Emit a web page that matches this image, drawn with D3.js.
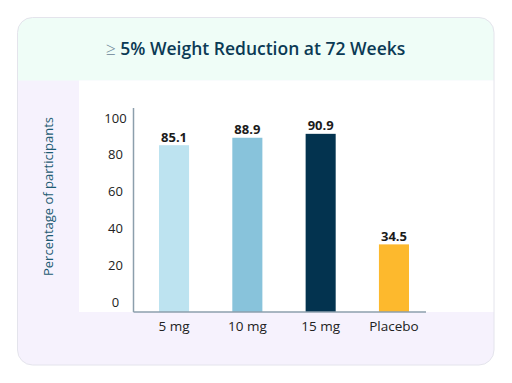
<!DOCTYPE html>
<html>
<head>
<meta charset="utf-8">
<script src="https://cdn.jsdelivr.net/npm/d3@7"></script>
<style>
  html, body { margin: 0; padding: 0; background: #fff; }
  svg { display: block; font-family: "Open Sans", sans-serif; }
</style>
</head>
<body>
<div id="chart"></div>
<script>
// data
var categories = ["5 mg", "10 mg", "15 mg", "Placebo"];
var values = [85.1, 88.9, 90.9, 34.5];
var barColors = ["#bde3f0", "#88c3db", "#03334f", "#fdb92d"];
var tickValues = [0, 20, 40, 60, 80, 100];

var width = 512, height = 383;

var svg = d3.select("#chart").append("svg")
    .attr("width", width)
    .attr("height", height);

// card
var card = {x: 17.5, y: 17.5, w: 476.5, h: 347.5, r: 15};
var headerH = 63;

svg.append("clipPath").attr("id", "cardClip")
    .append("rect")
    .attr("x", card.x).attr("y", card.y)
    .attr("width", card.w).attr("height", card.h)
    .attr("rx", card.r);

var g = svg.append("g").attr("clip-path", "url(#cardClip)");

// lavender bg
g.append("rect")
    .attr("x", card.x).attr("y", card.y)
    .attr("width", card.w).attr("height", card.h)
    .attr("fill", "#f6f2fd");

// header
g.append("rect")
    .attr("x", card.x).attr("y", card.y)
    .attr("width", card.w).attr("height", headerH)
    .attr("fill", "#effdf7");

// white plot area
g.append("rect")
    .attr("x", 79).attr("y", card.y + headerH)
    .attr("width", card.x + card.w - 79).attr("height", 312 - card.y - headerH)
    .attr("fill", "#ffffff");

// border
svg.append("rect")
    .attr("x", card.x).attr("y", card.y)
    .attr("width", card.w).attr("height", card.h)
    .attr("rx", card.r)
    .attr("fill", "none")
    .attr("stroke", "#e4e4ec")
    .attr("stroke-width", 1);

// title
var title = svg.append("text")
    .attr("x", 255.5)
    .attr("y", 55)
    .attr("text-anchor", "middle")
    .attr("font-size", 17.5)
    .attr("font-weight", 600)
    .attr("fill", "#0b3a55");
title.append("tspan").attr("fill", "#6a8496").attr("font-weight", 300).text("\u2265 ");
title.append("tspan").text("5% Weight Reduction at 72 Weeks");

// scales
var plot = {left: 133.5, right: 426, top: 108, bottom: 312};

var xScale = d3.scaleBand()
    .domain(categories)
    .range([plot.left, plot.right])
    .paddingInner(0.59)
    .paddingOuter(0.29)
    .align(0.6);

var yScale = d3.scaleLinear()
    .domain([0, 100])
    .range([plot.bottom, 116]);

// tick labels sit on their own spacing in the picture
var yTickScale = d3.scaleLinear()
    .domain([0, 100])
    .range([302, 118]);

// bars
svg.selectAll(".bar")
    .data(values)
    .enter()
    .append("rect")
    .attr("class", "bar")
    .attr("x", function(d, i) { return xScale(categories[i]); })
    .attr("width", xScale.bandwidth())
    .attr("y", function(d) { return yScale(d); })
    .attr("height", function(d) { return yScale(0) - yScale(d); })
    .attr("fill", function(d, i) { return barColors[i]; });

// value labels
svg.selectAll(".val")
    .data(values)
    .enter()
    .append("text")
    .attr("class", "val")
    .attr("x", function(d, i) { return xScale(categories[i]) + xScale.bandwidth() / 2; })
    .attr("y", function(d) { return yScale(d) - 3.5; })
    .attr("text-anchor", "middle")
    .attr("font-size", 13)
    .attr("font-weight", 700)
    .attr("fill", "#1b1b1b")
    .text(function(d) { return d.toFixed(1); });

// y axis (labels only)
var yAxis = d3.axisLeft(yTickScale).tickValues(tickValues).tickSize(0).tickPadding(0);
var yAxisG = svg.append("g")
    .attr("transform", "translate(115.5,0)")
    .call(yAxis);
yAxisG.select(".domain").remove();
yAxisG.selectAll("text")
    .attr("text-anchor", "middle")
    .attr("font-family", "\"Open Sans\", sans-serif")
    .attr("font-size", 13)
    .attr("fill", "#222");

// x axis (labels only)
var xAxis = d3.axisBottom(xScale).tickSize(0).tickPadding(0);
var xAxisG = svg.append("g")
    .attr("transform", "translate(0,321)")
    .call(xAxis);
xAxisG.select(".domain").remove();
xAxisG.selectAll("text")
    .attr("font-family", "\"Open Sans\", sans-serif")
    .attr("font-size", 13.5)
    .attr("fill", "#222");

// axis lines
svg.append("line")
    .attr("x1", plot.left).attr("x2", plot.left)
    .attr("y1", plot.top).attr("y2", plot.bottom)
    .attr("stroke", "#8c9fac").attr("stroke-width", 1.5);
svg.append("line")
    .attr("x1", plot.left).attr("x2", plot.right)
    .attr("y1", plot.bottom).attr("y2", plot.bottom)
    .attr("stroke", "#8c9fac").attr("stroke-width", 1.5);

// y axis title
svg.append("text")
    .attr("transform", "translate(52.5,196.5) rotate(-90)")
    .attr("text-anchor", "middle")
    .attr("font-size", 13)
    .attr("fill", "#1d5b73")
    .text("Percentage of participants");
</script>
</body>
</html>
